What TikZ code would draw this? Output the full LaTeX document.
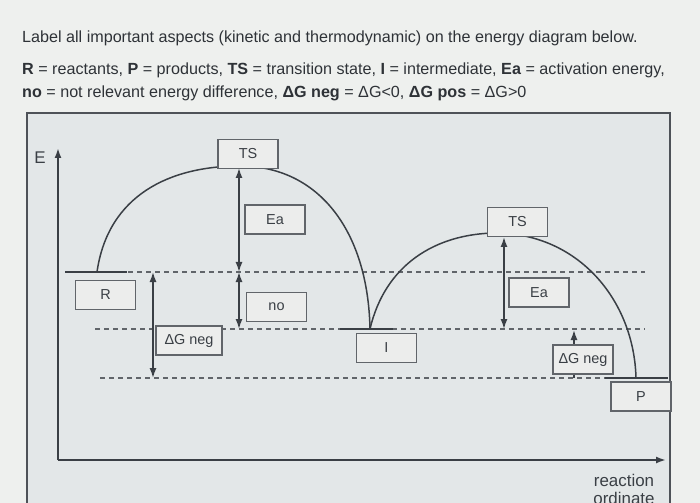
\documentclass[tikz,border=0pt]{standalone}
\usepackage{fontspec}
\setmainfont{Liberation Sans}
\usetikzlibrary{arrows.meta}
\definecolor{bg}{HTML}{EEF0EE}
\definecolor{panel}{HTML}{E3E7E8}
\definecolor{ink}{HTML}{3A3F45}
\definecolor{boxfill}{HTML}{ECEDEC}
\tikzset{
  lbl/.style={draw=ink!80, fill=boxfill, line width=1.2pt, minimum width=60bp, minimum height=29bp, inner sep=0pt, font=\fontsize{14.5}{16}\selectfont, text=ink},
  lvl/.style={draw=ink, line width=2pt},
  dsh/.style={draw=ink!80, dash pattern=on 5bp off 4bp, line width=1.3pt},
  dbl/.style={draw=ink, line width=1.5pt, {Latex[length=10bp,width=7bp]}-{Latex[length=10bp,width=7bp]}},
  sgl/.style={draw=ink, line width=1.5pt, -{Latex[length=10bp,width=7bp]}},
  crv/.style={draw=ink, line width=1.5pt},
  hdr/.style={anchor=west, inner sep=0pt, text=ink!80!black, font=\fontsize{16.2}{19}\selectfont}
}
\begin{document}
\begin{tikzpicture}[x=1bp,y=-1bp]
\useasboundingbox (0,0) rectangle (700,503);
\fill[bg] (0,0) rectangle (700,503);
\fill[panel] (27,113) rectangle (670,510);
\draw[ink!90, line width=1.5pt] (27,510) -- (27,113) -- (670,113) -- (670,510);
\node[hdr] (t1) at (22,38) {Label all important aspects (kinetic and thermodynamic) on the energy diagram below.};
\node[hdr] (t2) at (22,70) {\textbf{R} = reactants, \textbf{P} = products, \textbf{TS} = transition state, \textbf{I} = intermediate, \textbf{Ea} = activation energy,};
\node[hdr] (t3) at (22,93) {\textbf{no} = not relevant energy difference, \textbf{ΔG neg} = ΔG<0, \textbf{ΔG pos} = ΔG>0};
% axes
\coordinate (o) at (58,460);
\coordinate (ey) at (58,148);
\coordinate (ex) at (666,460);
\draw[sgl, line width=1.8pt] (o) -- (ey);
\draw[sgl, line width=1.8pt] (o) -- (ex);
\node[text=ink, font=\fontsize{17}{19}\selectfont] (E) at (40,158) {E};
\node[text=ink, font=\fontsize{17}{18}\selectfont, align=center] (ro) at (624,489) {reaction\\ordinate};
% dashed
\coordinate (d1a) at (65,272); \coordinate (d1b) at (645,272);
\coordinate (d2a) at (95,329); \coordinate (d2b) at (645,329);
\coordinate (d3a) at (100,378); \coordinate (d3b) at (645,378);
\draw[dsh] (d1a) -- (d1b);
\draw[dsh] (d2a) -- (d2b);
\draw[dsh] (d3a) -- (d3b);
% levels
\coordinate (r1) at (65,272); \coordinate (r2) at (127,272);
\coordinate (i1) at (340,329); \coordinate (i2) at (393,329);
\coordinate (p1) at (605,378); \coordinate (p2) at (668,378);
\draw[lvl] (r1) -- (r2);
\draw[lvl] (i1) -- (i2);
\draw[lvl] (p1) -- (p2);
% curves
\coordinate (c1s) at (97,272); \coordinate (c1t) at (240,166); \coordinate (c1e) at (370,329);
\coordinate (c2t) at (495,233); \coordinate (c2e) at (636,378);
\draw[crv] (c1s) .. controls (108,195) and (170,166) .. (c1t) .. controls (318,166) and (368,230) .. (c1e);
\draw[crv] (c1e) .. controls (385,265) and (435,234) .. (c2t) .. controls (578,233) and (634,300) .. (c2e);
% arrows
\coordinate (a1t) at (239,168); \coordinate (a1m) at (239,272); \coordinate (a1b) at (239,329);
\draw[dbl] (a1t) -- (a1m);
\draw[dbl] (a1m) -- (a1b);
\coordinate (g1t) at (153,272); \coordinate (g1b) at (153,378);
\draw[dbl] (g1t) -- (g1b);
\coordinate (a2t) at (504,237); \coordinate (a2b) at (504,329);
\draw[dbl] (a2t) -- (a2b);
\coordinate (g2b) at (574,378); \coordinate (g2t) at (574,330);
\draw[sgl] (g2b) -- (g2t);
% boxes
\node[lbl] (TS1) at (248,154) {TS};
\node[lbl] (Ea1) at (275,219.5) {Ea};
\node[lbl] (no) at (276.5,307) {no};
\node[lbl] (R) at (105.5,295) {R};
\node[lbl, minimum width=66bp] (G1) at (189,340.5) {ΔG neg};
\node[lbl] (I) at (386.5,348) {I};
\node[lbl] (TS2) at (517.5,222) {TS};
\node[lbl] (Ea2) at (539,292.5) {Ea};
\node[lbl] (G2) at (583,359.5) {ΔG neg};
\node[lbl] (P) at (641,396.5) {P};
\end{tikzpicture}
\end{document}
